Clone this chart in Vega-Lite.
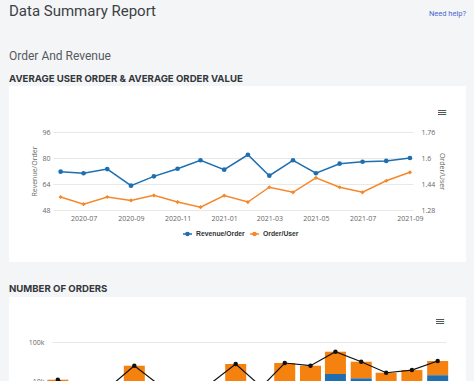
{
  "$schema": "https://vega.github.io/schema/vega-lite/v6.json",
  "background": "#f4f5f7",
  "padding": {"left": 9, "top": 4, "right": 8, "bottom": 0},
  "title": {"text": "Need help?", "anchor": "end", "font": "Roboto", "fontSize": 7.5, "fontWeight": "normal", "color": "#4a66d0", "dy": 13, "offset": 0},
  "vconcat": [
    {
      "title": {"text": "Data Summary Report", "subtitle": "Order And Revenue", "anchor": "start", "font": "Roboto", "fontSize": 15, "fontWeight": "normal", "color": "#3c3f44", "subtitleFont": "Roboto", "subtitleFontSize": 12, "subtitleColor": "#555a60", "subtitlePadding": 32, "offset": 12},
      "spacing": 22,
      "vconcat": [
        {
          "width": 457,
          "height": 176,
          "title": {"text": "AVERAGE USER ORDER & AVERAGE ORDER VALUE", "anchor": "start", "font": "Inter", "fontSize": 9.6, "fontWeight": "bold", "color": "#33363a", "offset": 2},
          "data": {"values": [
            {"month": "2020-06-01T00:00:00", "rev": 71.6, "ou": 1.36},
            {"month": "2020-07-01T00:00:00", "rev": 70.6, "ou": 1.316},
            {"month": "2020-08-01T00:00:00", "rev": 73.2, "ou": 1.36},
            {"month": "2020-09-01T00:00:00", "rev": 63.0, "ou": 1.339},
            {"month": "2020-10-01T00:00:00", "rev": 68.7, "ou": 1.37},
            {"month": "2020-11-01T00:00:00", "rev": 73.4, "ou": 1.329},
            {"month": "2020-12-01T00:00:00", "rev": 78.6, "ou": 1.297},
            {"month": "2021-01-01T00:00:00", "rev": 72.8, "ou": 1.369},
            {"month": "2021-02-01T00:00:00", "rev": 82.0, "ou": 1.329},
            {"month": "2021-03-01T00:00:00", "rev": 69.1, "ou": 1.42},
            {"month": "2021-04-01T00:00:00", "rev": 78.6, "ou": 1.389},
            {"month": "2021-05-01T00:00:00", "rev": 70.6, "ou": 1.478},
            {"month": "2021-06-01T00:00:00", "rev": 76.5, "ou": 1.42},
            {"month": "2021-07-01T00:00:00", "rev": 77.7, "ou": 1.389},
            {"month": "2021-08-01T00:00:00", "rev": 78.2, "ou": 1.46},
            {"month": "2021-09-01T00:00:00", "rev": 80.0, "ou": 1.512}
          ]},
          "encoding": {
            "x": {
              "field": "month", "type": "temporal",
              "scale": {"domain": [{"year": 2020, "month": "May", "date": 22}, {"year": 2021, "month": "Sep", "date": 5}], "range": [44, 404]},
              "axis": {"title": null, "offset": -52, "format": "%Y-%m", "labelFlush": false, "labelPadding": 4, "grid": false,
                "values": [{"year": 2020, "month": "Jul", "date": 1}, {"year": 2020, "month": "Sep", "date": 1}, {"year": 2020, "month": "Nov", "date": 1}, {"year": 2021, "month": "Jan", "date": 1}, {"year": 2021, "month": "Mar", "date": 1}, {"year": 2021, "month": "May", "date": 1}, {"year": 2021, "month": "Jul", "date": 1}, {"year": 2021, "month": "Sep", "date": 1}]}
            },
            "color": {"scale": {"domain": ["Revenue/Order", "Order/User"], "range": ["#1f6fb0", "#f5882a"]},
              "legend": {"orient": "none", "legendX": 173, "legendY": 142, "direction": "horizontal", "title": null, "labelFont": "Liberation Sans", "labelFontSize": 6.8, "labelFontWeight": "bold", "labelColor": "#333", "symbolType": "M-1,0L1,0M-0.35,0A0.35,0.35 0 1,0 0.35,0A0.35,0.35 0 1,0 -0.35,0", "symbolSize": 81, "symbolStrokeWidth": 1.5, "columnPadding": 2, "labelOffset": 3}}
          },
          "layer": [
            {
              "encoding": {
                "y": {"field": "rev", "type": "quantitative", "scale": {"domain": [48, 96], "range": [124, 46], "zero": false, "nice": false},
                  "axis": {"title": "Revenue/Order", "orient": "left", "offset": -44, "values": [48, 64, 80, 96], "labelPadding": 3, "titlePadding": 4, "grid": true}}
              },
              "layer": [
                {"mark": {"type": "line", "strokeWidth": 1.5}, "encoding": {"color": {"datum": "Revenue/Order"}}},
                {"mark": {"type": "point", "filled": true, "size": 22, "opacity": 1}, "encoding": {"color": {"datum": "Revenue/Order"}}},
                {"mark": {"type": "text", "text": "≡", "font": "DejaVu Sans", "fontSize": 11, "color": "#555"}, "encoding": {"x": {"datum": {"year": 2021, "month": "Oct", "date": 13}}, "y": {"datum": 108}}}
              ]
            },
            {
              "encoding": {
                "y": {"field": "ou", "type": "quantitative", "scale": {"domain": [1.28, 1.76], "range": [124, 46], "zero": false, "nice": false},
                  "axis": {"title": "Order/User", "orient": "right", "offset": -53, "values": [1.28, 1.44, 1.6, 1.76], "format": ".3~r", "labelPadding": 8, "titlePadding": 4, "grid": false}}
              },
              "layer": [
                {"mark": {"type": "line", "strokeWidth": 1.5}, "encoding": {"color": {"datum": "Order/User"}}},
                {"mark": {"type": "point", "filled": true, "shape": "diamond", "size": 18, "opacity": 1}, "encoding": {"color": {"datum": "Order/User"}}}
              ]
            }
          ],
          "resolve": {"scale": {"y": "independent"}}
        },
        {
          "width": 457,
          "height": 176,
          "title": {"text": "NUMBER OF ORDERS", "anchor": "start", "font": "Inter", "fontSize": 9.6, "fontWeight": "bold", "color": "#33363a", "offset": 3},
          "data": {"values": [
            {"month": "2020-06-01T00:00:00", "total": 10800, "blue": 3000},
            {"month": "2020-07-01T00:00:00", "total": 5000, "blue": 1500},
            {"month": "2020-08-01T00:00:00", "total": 6700, "blue": 2000},
            {"month": "2020-09-01T00:00:00", "total": 24700, "blue": 6000},
            {"month": "2020-10-01T00:00:00", "total": 7900, "blue": 2000},
            {"month": "2020-11-01T00:00:00", "total": 5000, "blue": 1500},
            {"month": "2020-12-01T00:00:00", "total": 8400, "blue": 2000},
            {"month": "2021-01-01T00:00:00", "total": 27300, "blue": 7000},
            {"month": "2021-02-01T00:00:00", "total": 7000, "blue": 2000},
            {"month": "2021-03-01T00:00:00", "total": 28900, "blue": 8000},
            {"month": "2021-04-01T00:00:00", "total": 24700, "blue": 7000},
            {"month": "2021-05-01T00:00:00", "total": 56400, "blue": 15100},
            {"month": "2021-06-01T00:00:00", "total": 31200, "blue": 11700},
            {"month": "2021-07-01T00:00:00", "total": 16300, "blue": 5000},
            {"month": "2021-08-01T00:00:00", "total": 19100, "blue": 6000},
            {"month": "2021-09-01T00:00:00", "total": 32600, "blue": 14000}
          ]},
          "encoding": {
            "x": {
              "field": "month", "type": "temporal",
              "scale": {"domain": [{"year": 2020, "month": "May", "date": 31}, {"year": 2021, "month": "Sep", "date": 5}], "range": [43, 437]},
              "axis": null
            }
          },
          "layer": [
            {"mark": {"type": "bar", "size": 21, "color": "#f5820f"},
              "encoding": {
                "y": {"field": "total", "type": "quantitative", "scale": {"type": "log", "domain": [1000, 100000], "range": [123, 45], "nice": false},
                  "axis": {"title": null, "orient": "left", "offset": -43, "values": [10000, 100000], "format": "~s", "labelPadding": 8, "grid": true}},
                "y2": {"field": "blue"}
              }},
            {"mark": {"type": "bar", "size": 21, "color": "#1f6fb0"},
              "encoding": {"y": {"field": "blue", "type": "quantitative"}, "y2": {"datum": 1000}}},
            {"mark": {"type": "line", "color": "#111", "strokeWidth": 1.2}, "encoding": {"y": {"field": "total", "type": "quantitative"}}},
            {"mark": {"type": "point", "filled": true, "color": "#111", "size": 20, "opacity": 1}, "encoding": {"y": {"field": "total", "type": "quantitative"}}},
            {"mark": {"type": "text", "text": "≡", "font": "DejaVu Sans", "fontSize": 11, "color": "#555"}, "encoding": {"x": {"datum": {"year": 2021, "month": "Sep", "date": 4}}, "y": {"datum": 325000}}}
          ]
        }
      ]
    }
  ],
  "config": {
    "view": {"fill": "white", "stroke": null},
    "axis": {"labelFont": "Open Sans", "labelFontSize": 7, "labelColor": "#666", "titleFont": "Open Sans", "titleFontSize": 7, "titleFontWeight": "normal", "titleColor": "#666", "domain": false, "ticks": false, "gridColor": "#e8e8e8", "gridWidth": 1}
  }
}
